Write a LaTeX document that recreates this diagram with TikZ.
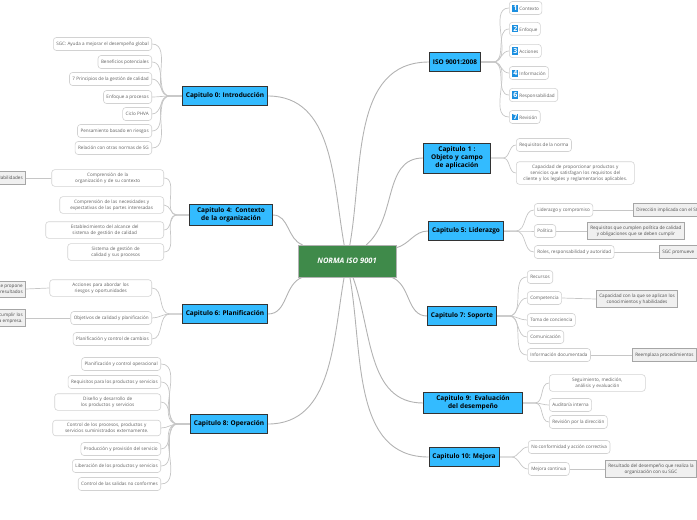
\documentclass[tikz,border=0pt]{standalone}
\usepackage{fontspec}
\setmainfont{Open Sans}
\usetikzlibrary{backgrounds}
\definecolor{cyanbox}{HTML}{33BBFF}
\definecolor{rootgreen}{HTML}{3F8A4A}
\definecolor{badgeblue}{HTML}{1B8FE0}
\newcommand{\nohy}{\hyphenpenalty=10000\exhyphenpenalty=10000}
\newcommand{\lf}{\fontsize{4.6}{6}\selectfont\nohy}
\newcommand{\mf}{\fontsize{6.5}{8.2}\selectfont\bfseries\nohy}
\newcommand{\bdg}[1]{{\setlength{\fboxsep}{1pt}\colorbox{badgeblue}{\textcolor{white}{\fontsize{7}{7}\selectfont\bfseries #1}}}\ }
\tikzset{
 mainbox/.style={draw=black!80, line width=0.8pt, fill=cyanbox, font=\mf, align=center, inner sep=3.5pt, minimum height=19pt},
 leaf/.style={draw=gray!35, line width=0.6pt, rounded corners=3pt, fill=white, text=gray!75!black, font=\lf, align=center, inner sep=3pt, minimum height=13pt},
 far/.style={draw=gray!70, line width=0.6pt, fill=gray!12, text=black!70, font=\lf, align=center, inner sep=3pt, minimum height=13pt},
 br/.style={draw=gray!45, line width=0.7pt},
 rl/.style={draw=gray!60, line width=0.9pt},
}
\begin{document}
\begin{tikzpicture}[x=1pt,y=-1pt]
\useasboundingbox (0,0) rectangle (697,520);
\clip (0,0) rectangle (697,520);
\node[draw=gray!60, fill=rootgreen, text=white, font=\fontsize{7.5}{9}\selectfont\bfseries\itshape, minimum width=98pt, minimum height=32pt] (root) at (347,261) {NORMA ISO 9001};
% main nodes
\node[mainbox] (iso) at (455,62) {ISO 9001:2008};
\node[mainbox, text width=60pt] (c1) at (457,158) {Capitulo 1 :\\Objeto y campo\\de aplicación};
\node[mainbox] (c5) at (466,231) {Capitulo 5: Liderazgo};
\node[mainbox, text width=92pt] (c9) at (473,403) {Capitulo 9: Evaluación del desempeño};
\node[mainbox] (c7) at (462,316) {Capitulo 7: Soporte};
\node[mainbox] (c10) at (464,457) {Capitulo 10: Mejora};
\node[mainbox] (c0) at (225,96) {Capitulo 0: Introducción};
\node[mainbox, text width=76pt] (c4) at (231,215) {Capitulo 4: Contexto de la organización};
\node[mainbox] (c6) at (225,314) {Capitulo 6: Planificación};
\node[mainbox] (c8) at (229,424) {Capitulo 8: Operación};
% ISO leaves
\node[leaf, anchor=west] (i1) at (509,8) {\bdg{1}Contexto};
\node[leaf, anchor=west] (i2) at (509,29) {\bdg{2}Enfoque};
\node[leaf, anchor=west] (i3) at (509,51) {\bdg{3}Acciones};
\node[leaf, anchor=west] (i4) at (509,73) {\bdg{4}Información};
\node[leaf, anchor=west] (i5) at (509,95) {\bdg{6}Responsabilidad};
\node[leaf, anchor=west] (i6) at (509,117) {\bdg{7}Revisión};
% cap 1
\node[leaf, anchor=west] (a1) at (516,145) {Requisitos de la norma};
\node[leaf, anchor=west, text width=112pt] (a2) at (516,173) {Capacidad de proporcionar productos y servicios que satisfagan los requisitos del cliente y los legales y reglamentarios aplicables.};
% cap 5
\node[leaf, anchor=west] (b1) at (534,210) {Liderazgo y compromiso};
\node[leaf, anchor=west] (b2) at (534,231) {Política};
\node[leaf, anchor=west] (b3) at (534,252) {Roles, responsabilidad y autoridad};
\node[far, anchor=west] (fb1) at (633,210) {Dirección implicada con el SGC};
\node[far, anchor=west] (fb2) at (587,231) {Requisitos que cumplen política de calidad\\y obligaciones que se deben cumplir};
\node[far, anchor=west] (fb3) at (659,252) {SGC promueve};
% cap 7
\node[leaf, anchor=west] (s1) at (527,277) {Recursos};
\node[leaf, anchor=west] (s2) at (527,298) {Competencia};
\node[leaf, anchor=west] (s3) at (527,320) {Toma de conciencia};
\node[leaf, anchor=west] (s4) at (527,337) {Comunicación};
\node[leaf, anchor=west] (s5) at (527,355) {Información documentada};
\node[far, anchor=west] (fs2) at (596,299) {Capacidad con la que se aplican los\\conocimientos y habilidades};
\node[far, anchor=west] (fs5) at (632,355) {Reemplaza procedimientos};
% cap 9
\node[leaf, anchor=west, text width=90pt] (e1) at (549,383) {Seguimiento, medición, análisis y evaluación};
\node[leaf, anchor=west] (e2) at (549,405) {Auditoría interna};
\node[leaf, anchor=west] (e3) at (549,422) {Revisión por la dirección};
% cap 10
\node[leaf, anchor=west] (m1) at (528,447) {No conformidad y acción correctiva};
\node[leaf, anchor=west] (m2) at (528,469) {Mejora continua};
\node[far, anchor=west] (fm2) at (605,469) {Resultado del desempeño que realiza la\\organización con su SGC};
% cap 0
\node[leaf, anchor=east] (z1) at (152,44) {SGC: Ayuda a mejorar el desempeño global};
\node[leaf, anchor=east] (z2) at (152,62) {Beneficios potenciales};
\node[leaf, anchor=east] (z3) at (152,79) {7 Principios de la gestión de calidad};
\node[leaf, anchor=east] (z4) at (152,97) {Enfoque a procesos};
\node[leaf, anchor=east] (z5) at (152,114) {Ciclo PHVA};
\node[leaf, anchor=east] (z6) at (152,131) {Pensamiento basado en riesgos};
\node[leaf, anchor=east] (z7) at (152,148) {Relación con otras normas de SG};
% cap 4
\node[leaf, anchor=east, text width=106pt] (k1) at (164,178) {Comprensión de la organización y de su contexto};
\node[leaf, anchor=east, text width=98pt] (k2) at (164,205) {Comprensión de las necesidades y expectativas de las partes interesadas};
\node[leaf, anchor=east, text width=112pt] (k3) at (164,230) {Establecimiento del alcance del sistema de gestión de calidad};
\node[leaf, anchor=east, text width=90pt] (k4) at (164,252) {Sistema de gestión de calidad y sus procesos};
\node[far, anchor=east] (fk1) at (26,178) {Habilidades};
% cap 6
\node[leaf, anchor=east, text width=96pt] (p1) at (152,288) {Acciones para abordar los riesgos y oportunidades};
\node[leaf, anchor=east] (p2) at (152,318) {Objetivos de calidad y planificación};
\node[leaf, anchor=east] (p3) at (152,339) {Planificación y control de cambios};
\node[far, anchor=east, align=right] (fp1) at (26,289) {Lo que se propone\\para mejores resultados};
\node[far, anchor=east, align=right] (fp2) at (26,318) {Metas que deben cumplir los\\objetivos de la empresa.};
% cap 8
\node[leaf, anchor=east] (o1) at (161,364) {Planificación y control operacional};
\node[leaf, anchor=east] (o2) at (161,382) {Requisitos para los productos y servicios};
\node[leaf, anchor=east, text width=100pt] (o3) at (161,402) {Diseño y desarrollo de los productos y servicios};
\node[leaf, anchor=east, text width=102pt] (o4) at (161,428) {Control de los procesos, productos y servicios suministrados externamente.};
\node[leaf, anchor=east] (o5) at (161,449) {Producción y provisión del servicio};
\node[leaf, anchor=east] (o6) at (161,466) {Liberación de los productos y servicios};
\node[leaf, anchor=east] (o7) at (161,484) {Control de las salidas no conformes};
\begin{pgfonlayer}{background}
\draw[rl] (root) to[out=80,in=180] (iso.west);
\draw[rl] (root) to[out=40,in=180] (c1.west);
\draw[rl] (root) to[out=15,in=180] (c5.west);
\draw[rl] (root) to[out=-20,in=180] (c7.west);
\draw[rl] (root) to[out=-70,in=180] (c9.west);
\draw[rl] (root) to[out=-80,in=180] (c10.west);
\draw[rl] (root) to[out=100,in=0] (c0.east);
\draw[rl] (root) to[out=160,in=0] (c4.east);
\draw[rl] (root) to[out=-160,in=0] (c6.east);
\draw[rl] (root) to[out=-100,in=0] (c8.east);
\foreach \m/\l in {iso/i1,iso/i2,iso/i3,iso/i4,iso/i5,iso/i6,c1/a1,c1/a2,c5/b1,c5/b2,c5/b3,c7/s1,c7/s2,c7/s3,c7/s4,c7/s5,c9/e1,c9/e2,c9/e3,c10/m1,c10/m2}
  \draw[br] (\m.east) -- ++(12,0) to[out=0,in=180] (\l.west);
\foreach \m/\l in {c0/z1,c0/z2,c0/z3,c0/z4,c0/z5,c0/z6,c0/z7,c4/k1,c4/k2,c4/k3,c4/k4,c6/p1,c6/p2,c6/p3,c8/o1,c8/o2,c8/o3,c8/o4,c8/o5,c8/o6,c8/o7}
  \draw[br] (\m.west) -- ++(-12,0) to[out=180,in=0] (\l.east);
\foreach \a/\b in {b1/fb1,b2/fb2,b3/fb3,s2/fs2,s5/fs5,m2/fm2}
  \draw[br] (\a.east) -- (\b.west);
\foreach \a/\b in {k1/fk1,p1/fp1,p2/fp2}
  \draw[br] (\a.west) -- (\b.east);
\end{pgfonlayer}
\end{tikzpicture}
\end{document}
